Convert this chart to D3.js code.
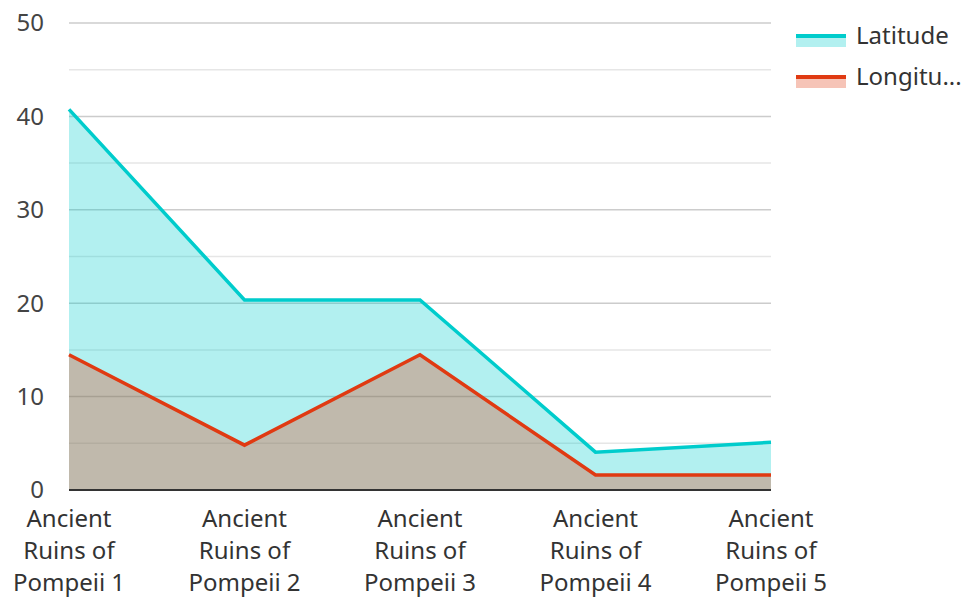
<!DOCTYPE html>
<html>
<head>
<meta charset="utf-8">
<script src="https://cdn.jsdelivr.net/npm/d3@7"></script>
<style>
  body { margin: 0; background: #fff; }
  text { font-family: "Noto Sans", "Open Sans", sans-serif; }
</style>
</head>
<body>
<svg id="chart" width="966" height="597"></svg>
<script>
var categories = ["Ancient Ruins of Pompeii 1", "Ancient Ruins of Pompeii 2", "Ancient Ruins of Pompeii 3", "Ancient Ruins of Pompeii 4", "Ancient Ruins of Pompeii 5"];
var latitude = [40.75, 20.35, 20.35, 4.05, 5.1];
var longitude = [14.48, 4.8, 14.48, 1.6, 1.6];
var yTicks = [0, 10, 20, 30, 40, 50];
var yMinor = [5, 15, 25, 35, 45];

var series = [
    {name: "Latitude", label: "Latitude", values: latitude, color: "#00cccc", fill: "rgba(0,204,204,0.3)"},
    {name: "Longitude", label: "Longitu...", values: longitude, color: "#e03a12", fill: "rgba(224,58,18,0.3)"}
];

var svg = d3.select("#chart");
var plotLeft = 69, plotRight = 771, plotTop = 23, plotBottom = 490;

var x = d3.scalePoint().domain(categories).range([plotLeft, plotRight]);
var y = d3.scaleLinear().domain([0, 50]).range([plotBottom, plotTop]);

//grid, minor first
svg.append("g").selectAll("line").data(yMinor).enter().append("line")
    .attr("x1", plotLeft).attr("x2", plotRight)
    .attr("y1", function(d) { return y(d); }).attr("y2", function(d) { return y(d); })
    .style("stroke", "#e6e6e6").style("stroke-width", 1.5);
svg.append("g").selectAll("line").data(yTicks.slice(1)).enter().append("line")
    .attr("x1", plotLeft).attr("x2", plotRight)
    .attr("y1", function(d) { return y(d); }).attr("y2", function(d) { return y(d); })
    .style("stroke", "#cccccc").style("stroke-width", 1.5);

//areas
var area = d3.area()
    .x(function(d, i) { return x(categories[i]); })
    .y0(y(0))
    .y1(function(d) { return y(d); });
series.forEach(function(s) {
    svg.append("path").datum(s.values).attr("d", area).style("fill", s.fill);
});

//lines on top
var line = d3.line()
    .x(function(d, i) { return x(categories[i]); })
    .y(function(d) { return y(d); });
series.forEach(function(s) {
    svg.append("path").datum(s.values).attr("d", line)
        .style("fill", "none").style("stroke", s.color).style("stroke-width", 3.5);
});

//baseline
svg.append("line").attr("x1", plotLeft).attr("x2", plotRight).attr("y1", plotBottom).attr("y2", plotBottom)
    .style("stroke", "#333").style("stroke-width", 2);

//y labels
svg.append("g").selectAll("text").data(yTicks).enter().append("text")
    .attr("x", 44).attr("y", function(d) { return y(d); })
    .attr("dy", "0.35em").attr("text-anchor", "end")
    .style("font-size", "24px").style("fill", "#444")
    .text(function(d) { return d; });

//x labels
var xl = svg.append("g").selectAll("text").data(categories).enter().append("text")
    .attr("x", function(d) { return x(d); })
    .attr("y", 527)
    .attr("text-anchor", "middle")
    .style("font-size", "24px").style("fill", "#333");
xl.each(function(d) {
    var words = d.split(" ");
    var rows = [words[0], words[1] + " " + words[2], words[3] + " " + words[4]];
    var t = d3.select(this);
    rows.forEach(function(r, i) {
        t.append("tspan").attr("x", x(d)).attr("dy", i === 0 ? 0 : 32).text(r);
    });
});

//legend
var lg = svg.append("g").selectAll("g").data(series).enter().append("g")
    .attr("transform", function(d, i) { return "translate(796," + (35 + i * 41) + ")"; });
lg.append("rect").attr("x", 0).attr("y", 0).attr("width", 50).attr("height", 12)
    .style("fill", function(d) { return d.fill; });
lg.append("rect").attr("x", 0).attr("y", -1).attr("width", 50).attr("height", 4)
    .style("fill", function(d) { return d.color; });
lg.append("text").attr("x", 60).attr("y", 1).attr("dy", "0.35em")
    .style("font-size", "24px").style("fill", "#333")
    .text(function(d) { return d.label; });
</script>
</body>
</html>
